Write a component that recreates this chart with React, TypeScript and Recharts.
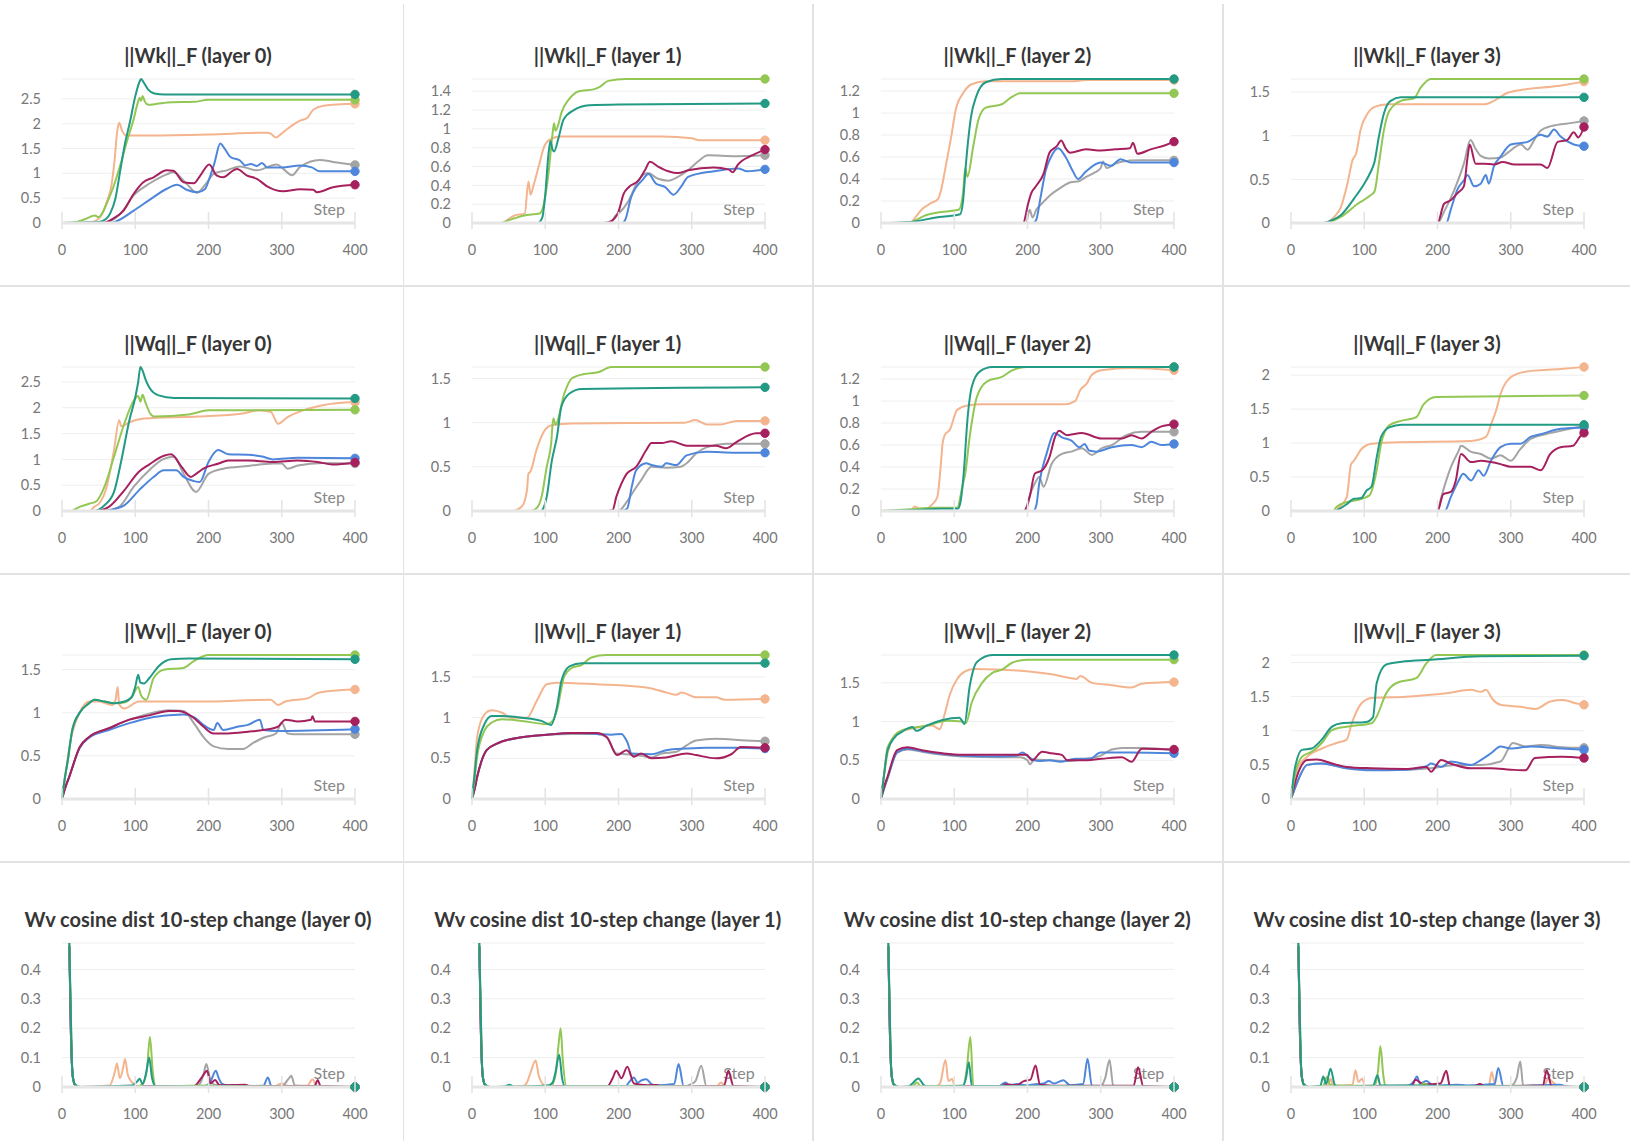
import React from "react";
import { LineChart, Line, XAxis, YAxis, CartesianGrid } from "recharts";

type Pt = [number, number];
type Panel = Record<string, Pt[]>;

const stepTicks = [0, 100, 200, 300, 400];
const drawOrder = ["peach", "gray", "blue", "maroon", "green", "teal"];
const colors: Record<string, string> = {
  teal: "#229a84",
  green: "#93c754",
  peach: "#f4b48e",
  gray: "#a4a4a4",
  blue: "#4e86dc",
  maroon: "#a6205e",
};

const wk0: Panel = {
  teal: [[0,0],[50,0.02],[60,0.08],[66,0.2],[73,0.5],[80,1.1],[86,1.6],[93,2.05],[100,2.55],[106,2.85],[108,2.9],[112,2.82],[118,2.68],[126,2.61],[140,2.59],[400,2.59]],
  green: [[0,0],[15,0.01],[30,0.07],[45,0.15],[50,0.12],[55,0.2],[61,0.39],[70,0.72],[80,1.19],[89,1.66],[98,2.1],[104,2.45],[106,2.52],[108,2.46],[110,2.56],[113,2.45],[118,2.38],[130,2.4],[150,2.43],[180,2.44],[200,2.48],[400,2.48]],
  peach: [[0,0],[40,0.02],[52,0.12],[61,0.42],[68,0.8],[72,1.3],[75,1.8],[78,2.02],[82,1.86],[88,1.76],[120,1.76],[200,1.78],[280,1.82],[285,1.8],[292,1.72],[298,1.78],[310,1.92],[325,2.06],[335,2.12],[343,2.28],[357,2.36],[400,2.4]],
  gray: [[0,0],[55,0],[66,0.04],[80,0.19],[98,0.56],[120,0.8],[143,0.98],[152,1.02],[170,0.79],[184,0.61],[198,0.82],[207,0.99],[225,1.06],[243,1.14],[266,1.06],[293,1.18],[302,1.09],[314,0.96],[325,1.13],[352,1.27],[370,1.23],[400,1.17]],
  blue: [[0,0],[65,0],[75,0.04],[98,0.25],[120,0.47],[143,0.69],[157,0.77],[170,0.67],[185,0.62],[195,0.68],[202,0.93],[208,1.2],[216,1.6],[222,1.5],[230,1.33],[243,1.26],[250,1.16],[258,1.19],[266,1.15],[273,1.21],[280,1.12],[300,1.12],[325,1.16],[341,1.12],[352,1.04],[400,1.04]],
  maroon: [[0,0],[55,0],[70,0.09],[84,0.25],[98,0.59],[111,0.82],[125,0.92],[143,1.06],[152,1.05],[166,0.82],[180,0.8],[189,0.96],[201,1.18],[211,0.96],[220,0.92],[234,1.06],[239,1.09],[252,0.96],[266,0.89],[280,0.74],[302,0.64],[325,0.68],[343,0.67],[348,0.62],[370,0.72],[400,0.77]],
};

const wk1: Panel = {
  green: [[0,0],[40,0],[50,0.03],[58,0.05],[71,0.08],[92,0.1],[98,0.2],[104,0.5],[110,0.95],[112,1.06],[114,0.98],[118,1.05],[122,1.17],[132,1.31],[146,1.4],[166,1.42],[175,1.45],[186,1.51],[210,1.53],[400,1.53]],
  teal: [[0,0],[90,0],[96,0.06],[100,0.3],[104,0.7],[107,0.87],[110,0.78],[112,0.76],[118,0.9],[125,1.1],[139,1.2],[160,1.25],[200,1.26],[400,1.27]],
  peach: [[0,0],[40,0],[50,0.04],[58,0.08],[72,0.1],[77,0.44],[80,0.3],[84,0.4],[92,0.63],[98,0.8],[105,0.88],[120,0.92],[140,0.92],[260,0.92],[300,0.9],[310,0.88],[400,0.88]],
  gray: [[0,0],[190,0],[195,0.07],[200,0.1],[214,0.24],[227,0.45],[240,0.53],[254,0.47],[268,0.45],[281,0.49],[295,0.56],[308,0.65],[322,0.72],[360,0.71],[400,0.72]],
  blue: [[0,0],[205,0],[210,0.05],[217,0.27],[224,0.38],[232,0.45],[241,0.52],[251,0.42],[264,0.38],[275,0.3],[285,0.38],[295,0.49],[330,0.55],[363,0.58],[376,0.55],[400,0.57]],
  maroon: [[0,0],[180,0],[190,0.02],[200,0.12],[207,0.31],[214,0.38],[227,0.45],[236,0.56],[243,0.65],[254,0.6],[268,0.55],[281,0.53],[295,0.56],[330,0.59],[350,0.57],[356,0.54],[363,0.62],[383,0.72],[400,0.78]],
};

const wk2: Panel = {
  teal: [[0,0],[40,0.01],[75,0.05],[108,0.08],[112,0.2],[116,0.54],[123,0.97],[130,1.15],[143,1.28],[165,1.31],[400,1.31]],
  green: [[0,0],[40,0.01],[61,0.07],[82,0.1],[106,0.12],[112,0.27],[115,0.5],[118,0.42],[126,0.7],[133,0.94],[143,1.05],[165,1.08],[175,1.13],[190,1.18],[400,1.18]],
  peach: [[0,0],[40,0],[48,0.06],[55,0.12],[68,0.18],[78,0.22],[82,0.3],[89,0.54],[96,0.79],[102,1.03],[112,1.18],[123,1.26],[143,1.29],[260,1.29],[280,1.3],[400,1.3]],
  maroon: [[0,0],[194,0],[201,0.18],[205,0.27],[211,0.33],[222,0.45],[230,0.64],[240,0.7],[246,0.75],[252,0.68],[258,0.64],[280,0.67],[300,0.66],[320,0.67],[340,0.68],[344,0.73],[350,0.63],[368,0.67],[389,0.71],[400,0.74]],
  blue: [[0,0],[208,0],[212,0.03],[218,0.24],[225,0.48],[232,0.6],[242,0.68],[252,0.6],[262,0.47],[269,0.4],[280,0.47],[300,0.55],[314,0.52],[327,0.58],[341,0.55],[370,0.55],[400,0.55]],
  gray: [[0,0],[198,0],[203,0.12],[207,0.05],[212,0.12],[220,0.18],[232,0.26],[245,0.32],[259,0.37],[270,0.38],[280,0.42],[292,0.46],[300,0.5],[303,0.56],[308,0.5],[320,0.54],[330,0.56],[350,0.57],[400,0.57]],
};

const wk3: Panel = {
  peach: [[0,0],[45,0],[59,0.07],[68,0.18],[77,0.45],[84,0.72],[89,0.8],[95,1.07],[105,1.26],[114,1.33],[132,1.36],[264,1.36],[277,1.4],[295,1.49],[318,1.53],[364,1.57],[386,1.6],[400,1.62]],
  teal: [[0,0],[45,0],[55,0.03],[68,0.09],[86,0.28],[100,0.45],[109,0.59],[114,0.7],[120,0.99],[127,1.26],[136,1.4],[150,1.44],[400,1.44]],
  green: [[0,0],[45,0],[68,0.07],[91,0.22],[109,0.32],[114,0.36],[120,0.68],[127,1.07],[134,1.28],[150,1.4],[168,1.43],[177,1.55],[191,1.65],[400,1.65]],
  gray: [[0,0],[200,0],[209,0.13],[223,0.38],[236,0.68],[245,0.95],[252,0.85],[259,0.77],[270,0.74],[286,0.75],[295,0.8],[314,0.9],[323,0.84],[332,0.95],[341,1.06],[355,1.11],[386,1.15],[400,1.17]],
  blue: [[0,0],[212,0],[218,0.15],[227,0.38],[236,0.49],[241,0.55],[250,0.42],[259,0.45],[266,0.55],[270,0.45],[277,0.65],[286,0.76],[300,0.9],[323,0.93],[341,1.01],[350,0.99],[359,1.07],[368,0.99],[386,0.9],[400,0.88]],
  maroon: [[0,0],[200,0],[209,0.22],[218,0.26],[227,0.34],[236,0.42],[241,0.75],[244,0.9],[252,0.68],[264,0.68],[277,0.67],[289,0.7],[305,0.67],[341,0.67],[350,0.63],[364,0.93],[377,0.95],[386,1.04],[392,0.98],[400,1.1]],
};

const wq0: Panel = {
  teal: [[0,0],[45,0],[52,0.04],[58,0.11],[71,0.37],[81,0.98],[92,1.76],[100,2.2],[104,2.5],[107,2.79],[110,2.72],[114,2.55],[119,2.4],[132,2.24],[153,2.19],[400,2.18]],
  green: [[0,0],[12,0],[24,0.08],[37,0.14],[47,0.19],[58,0.47],[71,1.05],[85,1.69],[98,2.14],[104,2.23],[107,2.12],[110,2.25],[114,2.1],[120,1.9],[126,1.83],[173,1.87],[200,1.95],[400,1.96]],
  peach: [[0,0],[38,0],[44,0.08],[51,0.15],[61,0.47],[71,1.18],[78,1.76],[81,1.64],[92,1.72],[112,1.79],[186,1.83],[247,1.89],[268,1.95],[285,1.92],[295,1.69],[308,1.82],[329,1.95],[356,2.05],[400,2.11]],
  gray: [[0,0],[50,0],[65,0.02],[78,0.08],[98,0.47],[119,0.79],[139,1.01],[153,1.05],[166,0.72],[183,0.37],[200,0.72],[220,0.82],[254,0.87],[288,0.92],[300,0.92],[308,0.82],[322,0.88],[356,0.93],[400,0.92]],
  blue: [[0,0],[60,0],[70,0.03],[85,0.11],[105,0.4],[125,0.66],[139,0.79],[156,0.79],[166,0.66],[180,0.58],[188,0.56],[200,0.95],[213,1.18],[227,1.1],[254,1.09],[275,1.05],[288,1.0],[322,1.03],[400,1.02]],
  maroon: [[0,0],[45,0],[64,0.08],[85,0.4],[105,0.76],[119,0.9],[139,1.07],[149,1.1],[163,0.86],[176,0.66],[183,0.72],[193,0.82],[214,0.92],[227,0.98],[254,0.98],[288,0.95],[322,0.98],[349,0.95],[369,0.9],[400,0.94]],
};

const wq1: Panel = {
  green: [[0,0],[80,0],[90,0.05],[95,0.16],[102,0.5],[108,0.76],[111,1.05],[114,0.98],[126,1.33],[136,1.5],[153,1.55],[172,1.57],[190,1.63],[400,1.63]],
  teal: [[0,0],[94,0],[98,0.04],[102,0.16],[109,0.57],[116,0.84],[122,1.18],[133,1.33],[150,1.38],[400,1.4]],
  peach: [[0,0],[55,0],[68,0.05],[75,0.23],[77,0.42],[80,0.45],[88,0.69],[99,0.91],[109,0.97],[136,0.99],[290,1.0],[305,1.03],[320,0.98],[340,0.98],[361,1.02],[400,1.02]],
  maroon: [[0,0],[185,0],[192,0.01],[197,0.16],[204,0.31],[211,0.42],[224,0.5],[238,0.69],[245,0.77],[259,0.77],[272,0.79],[293,0.74],[333,0.74],[347,0.71],[361,0.78],[388,0.88],[400,0.88]],
  blue: [[0,0],[205,0],[212,0.03],[218,0.27],[224,0.46],[238,0.54],[245,0.52],[259,0.5],[265,0.54],[279,0.52],[293,0.63],[320,0.67],[360,0.66],[400,0.66]],
  gray: [[0,0],[200,0],[211,0.1],[221,0.23],[231,0.35],[245,0.5],[265,0.49],[285,0.5],[293,0.54],[306,0.65],[320,0.72],[347,0.76],[400,0.76]],
};

const wq2: Panel = {
  teal: [[0,0],[50,0.01],[80,0.02],[105,0.02],[109,0.1],[113,0.35],[118,0.83],[124,1.13],[135,1.27],[152,1.31],[400,1.31]],
  green: [[0,0],[50,0.02],[70,0.03],[104,0.03],[111,0.22],[115,0.34],[121,0.67],[131,1.04],[145,1.18],[165,1.22],[179,1.28],[199,1.31],[400,1.31]],
  peach: [[0,0],[40,0],[46,0.04],[56,0.01],[70,0.06],[77,0.13],[82,0.45],[84,0.61],[87,0.69],[94,0.74],[104,0.92],[118,0.96],[138,0.97],[250,0.97],[265,1.0],[272,1.1],[281,1.16],[288,1.24],[301,1.28],[342,1.3],[400,1.28]],
  maroon: [[0,0],[195,0],[203,0.13],[210,0.34],[220,0.37],[230,0.49],[238,0.68],[243,0.73],[254,0.69],[274,0.71],[301,0.66],[329,0.66],[342,0.69],[356,0.66],[369,0.72],[383,0.77],[400,0.79]],
  blue: [[0,0],[208,0],[212,0.05],[216,0.25],[226,0.52],[237,0.71],[247,0.67],[260,0.64],[271,0.58],[278,0.61],[284,0.55],[294,0.54],[315,0.58],[342,0.6],[356,0.58],[369,0.63],[383,0.6],[400,0.61]],
  gray: [[0,0],[198,0],[203,0.14],[210,0.25],[216,0.31],[222,0.22],[233,0.43],[247,0.52],[260,0.54],[274,0.57],[288,0.51],[301,0.57],[315,0.6],[335,0.69],[356,0.72],[400,0.72]],
};

const wq3: Panel = {
  peach: [[0,0],[60,0],[66,0.06],[76,0.2],[82,0.69],[86,0.74],[96,0.91],[110,0.99],[137,1.01],[246,1.03],[266,1.09],[274,1.3],[280,1.48],[286,1.72],[300,1.97],[320,2.05],[368,2.09],[400,2.12]],
  green: [[0,0],[58,0],[62,0.06],[76,0.13],[90,0.16],[107,0.23],[117,0.6],[123,0.99],[134,1.26],[151,1.33],[171,1.38],[181,1.57],[198,1.68],[400,1.7]],
  teal: [[0,0],[60,0],[66,0.03],[76,0.1],[86,0.18],[96,0.19],[103,0.3],[110,0.36],[117,0.79],[123,1.09],[134,1.23],[151,1.27],[400,1.27]],
  gray: [[0,0],[200,0],[205,0.2],[218,0.64],[229,0.89],[232,0.96],[246,0.87],[259,0.84],[273,0.77],[286,0.82],[300,0.74],[313,0.91],[327,1.06],[347,1.13],[368,1.18],[400,1.25]],
  blue: [[0,0],[210,0],[218,0.2],[229,0.45],[235,0.55],[246,0.45],[256,0.6],[263,0.52],[273,0.74],[286,0.94],[300,0.99],[313,0.99],[327,1.09],[341,1.13],[368,1.21],[400,1.23]],
  maroon: [[0,0],[200,0],[208,0.25],[218,0.28],[225,0.45],[232,0.84],[246,0.72],[259,0.74],[273,0.72],[286,0.69],[300,0.65],[327,0.65],[341,0.6],[354,0.84],[368,0.94],[385,0.96],[395,1.1],[400,1.15]],
};

const wv0: Panel = {
  teal: [[0,0],[4,0.25],[8,0.45],[14,0.8],[24,1.0],[37,1.11],[44,1.15],[58,1.13],[71,1.11],[85,1.13],[95,1.18],[100,1.3],[104,1.44],[107,1.35],[112,1.34],[119,1.4],[132,1.54],[149,1.62],[173,1.63],[400,1.62]],
  green: [[0,0],[4,0.25],[8,0.45],[14,0.8],[24,1.0],[37,1.11],[44,1.15],[58,1.13],[71,1.11],[85,1.12],[95,1.18],[104,1.3],[108,1.2],[115,1.15],[125,1.4],[139,1.5],[166,1.52],[180,1.6],[200,1.67],[400,1.67]],
  peach: [[0,0],[5,0.3],[10,0.6],[24,1.0],[37,1.13],[51,1.13],[68,1.09],[73,1.15],[76,1.3],[78,1.1],[85,1.05],[105,1.13],[186,1.13],[285,1.15],[295,1.09],[305,1.13],[336,1.17],[349,1.23],[363,1.25],[400,1.27]],
  gray: [[0,0],[4,0.12],[10,0.26],[24,0.59],[37,0.72],[64,0.82],[92,0.92],[119,0.99],[146,1.03],[166,1.02],[180,0.88],[193,0.72],[207,0.61],[227,0.58],[247,0.58],[261,0.65],[275,0.71],[292,0.76],[300,0.88],[308,0.76],[322,0.75],[400,0.75]],
  blue: [[0,0],[4,0.12],[10,0.26],[24,0.59],[37,0.71],[64,0.8],[92,0.88],[119,0.94],[146,0.97],[166,0.98],[180,0.95],[193,0.86],[207,0.8],[212,0.88],[220,0.8],[241,0.84],[254,0.86],[270,0.92],[275,0.8],[295,0.79],[400,0.81]],
  maroon: [[0,0],[4,0.12],[10,0.26],[24,0.6],[37,0.72],[64,0.82],[92,0.92],[119,0.97],[146,1.02],[159,1.02],[180,0.94],[193,0.84],[207,0.76],[227,0.76],[254,0.78],[275,0.8],[295,0.84],[305,0.92],[322,0.9],[340,0.92],[342,0.96],[345,0.9],[400,0.9]],
};

const wv1: Panel = {
  green: [[0,0],[3,0.2],[7,0.52],[17,0.84],[27,0.94],[41,0.98],[68,0.96],[102,0.92],[110,0.96],[116,1.09],[126,1.51],[136,1.61],[150,1.65],[163,1.74],[184,1.77],[400,1.77]],
  teal: [[0,0],[3,0.25],[7,0.6],[17,0.92],[27,1.02],[41,1.02],[68,1.0],[95,0.96],[108,0.91],[116,1.13],[122,1.45],[133,1.63],[150,1.67],[400,1.67]],
  peach: [[0,0],[3,0.3],[7,0.76],[17,1.04],[27,1.09],[41,1.06],[54,1.0],[75,1.0],[88,1.2],[102,1.41],[116,1.43],[170,1.41],[238,1.37],[265,1.31],[279,1.28],[286,1.31],[306,1.25],[333,1.25],[345,1.22],[400,1.23]],
  gray: [[0,0],[3,0.1],[7,0.27],[20,0.6],[34,0.68],[68,0.76],[102,0.79],[136,0.8],[170,0.8],[184,0.76],[197,0.56],[211,0.55],[231,0.53],[245,0.51],[259,0.56],[279,0.58],[293,0.66],[306,0.72],[333,0.74],[374,0.72],[400,0.71]],
  blue: [[0,0],[3,0.1],[7,0.27],[20,0.6],[34,0.68],[68,0.76],[102,0.79],[136,0.81],[170,0.8],[190,0.79],[204,0.8],[212,0.7],[218,0.56],[245,0.55],[265,0.6],[293,0.62],[320,0.63],[360,0.63],[400,0.62]],
  maroon: [[0,0],[3,0.1],[7,0.27],[20,0.6],[34,0.68],[68,0.76],[102,0.79],[136,0.81],[170,0.81],[184,0.76],[198,0.54],[211,0.6],[221,0.52],[231,0.56],[245,0.5],[265,0.51],[293,0.56],[306,0.54],[333,0.5],[354,0.55],[367,0.64],[400,0.63]],
};

const wv2: Panel = {
  teal: [[0,0],[4,0.3],[9,0.63],[19,0.8],[29,0.87],[43,0.93],[48,0.88],[63,0.95],[84,1.02],[107,1.05],[114,0.97],[121,1.45],[131,1.77],[152,1.86],[400,1.86]],
  green: [[0,0],[4,0.3],[9,0.67],[29,0.89],[63,0.95],[90,1.01],[111,1.0],[116,0.98],[124,1.25],[138,1.5],[152,1.63],[165,1.67],[179,1.76],[199,1.8],[400,1.8]],
  peach: [[0,0],[4,0.3],[9,0.59],[22,0.85],[43,0.91],[70,0.95],[80,0.9],[87,1.1],[94,1.35],[104,1.55],[115,1.65],[128,1.68],[186,1.66],[233,1.61],[260,1.56],[267,1.55],[272,1.59],[288,1.5],[315,1.47],[342,1.44],[356,1.49],[400,1.51]],
  maroon: [[0,0],[4,0.15],[9,0.29],[22,0.63],[36,0.67],[56,0.63],[84,0.59],[111,0.57],[199,0.57],[206,0.5],[220,0.61],[233,0.59],[247,0.57],[254,0.5],[274,0.5],[301,0.52],[329,0.54],[342,0.48],[356,0.65],[400,0.64]],
  gray: [[0,0],[4,0.13],[9,0.27],[22,0.6],[36,0.64],[56,0.61],[84,0.57],[111,0.55],[160,0.54],[190,0.54],[200,0.5],[203,0.45],[210,0.51],[230,0.5],[254,0.49],[280,0.52],[300,0.56],[315,0.64],[330,0.66],[360,0.66],[400,0.63]],
  blue: [[0,0],[4,0.13],[9,0.27],[22,0.6],[36,0.65],[56,0.62],[84,0.58],[111,0.56],[160,0.55],[185,0.56],[193,0.6],[203,0.53],[215,0.49],[230,0.5],[245,0.48],[265,0.52],[285,0.52],[300,0.6],[340,0.6],[400,0.59]],
};

const wv3: Panel = {
  teal: [[0,0],[5,0.43],[15,0.72],[28,0.74],[42,0.87],[56,1.06],[69,1.11],[103,1.13],[112,1.2],[117,1.7],[130,1.97],[151,2.01],[191,2.04],[259,2.09],[400,2.1]],
  green: [[0,0],[5,0.33],[15,0.62],[28,0.69],[42,0.82],[56,1.01],[76,1.06],[110,1.11],[117,1.21],[130,1.55],[144,1.7],[171,1.77],[185,1.99],[198,2.11],[400,2.11]],
  peach: [[0,0],[8,0.43],[22,0.62],[42,0.74],[62,0.82],[76,0.87],[83,1.11],[96,1.4],[110,1.48],[157,1.5],[212,1.55],[246,1.6],[259,1.57],[266,1.6],[276,1.45],[286,1.38],[313,1.35],[334,1.32],[354,1.43],[371,1.45],[390,1.4],[400,1.38]],
  gray: [[0,0],[8,0.23],[22,0.5],[42,0.52],[76,0.45],[110,0.43],[157,0.43],[191,0.45],[225,0.5],[259,0.5],[286,0.55],[303,0.82],[320,0.77],[341,0.79],[370,0.76],[400,0.75]],
  blue: [[0,0],[8,0.23],[22,0.5],[42,0.52],[76,0.45],[110,0.42],[157,0.43],[185,0.48],[191,0.52],[205,0.47],[218,0.55],[246,0.5],[259,0.57],[273,0.67],[286,0.77],[300,0.74],[327,0.77],[370,0.74],[400,0.72]],
  maroon: [[0,0],[8,0.33],[22,0.57],[35,0.58],[56,0.52],[76,0.47],[110,0.45],[157,0.44],[185,0.47],[191,0.4],[205,0.57],[218,0.52],[246,0.45],[273,0.45],[300,0.43],[320,0.42],[333,0.6],[370,0.62],[400,0.6]],
};

const cos0: Panel = {
  teal: [[10,0.49],[12,0.25],[14,0.06],[17,0.01],[25,0],[95,0.005],[103,0.02],[106,0.028],[110,0.01],[115,0.05],[119,0.1],[123,0.03],[128,0.002],[400,0]],
  green: [[10,0.49],[12,0.25],[14,0.06],[17,0.01],[25,0],[100,0],[110,0.01],[116,0.06],[120,0.17],[124,0.05],[128,0.002],[200,0.005],[210,0.003],[400,0]],
  peach: [[10,0.48],[12,0.2],[15,0.03],[20,0],[65,0.005],[72,0.05],[75,0.08],[79,0.03],[83,0.06],[86,0.095],[90,0.04],[96,0.015],[105,0.002],[290,0.003],[300,0.012],[310,0.002],[335,0.005],[342,0.026],[348,0.003],[400,0]],
  gray: [[10,0.48],[12,0.2],[15,0.03],[20,0],[185,0.003],[193,0.04],[197,0.078],[202,0.03],[208,0.008],[230,0.005],[300,0.003],[310,0.03],[313,0.038],[318,0.005],[400,0]],
  blue: [[10,0.48],[12,0.2],[15,0.03],[20,0],[195,0.003],[203,0.02],[210,0.055],[214,0.03],[218,0.012],[225,0.006],[240,0.003],[275,0.004],[281,0.032],[286,0.003],[400,0]],
  maroon: [[10,0.48],[12,0.2],[15,0.03],[20,0],[180,0.003],[190,0.03],[194,0.045],[198,0.055],[203,0.012],[209,0.024],[215,0.006],[250,0.008],[256,0.003],[345,0.004],[349,0.024],[353,0.003],[400,0]],
};

const cos1: Panel = {
  teal: [[10,0.49],[12,0.25],[14,0.06],[17,0.01],[25,0],[45,0.002],[51,0.008],[57,0.001],[104,0.005],[110,0.015],[114,0.05],[119,0.11],[123,0.03],[127,0.002],[400,0]],
  green: [[10,0.49],[12,0.25],[14,0.06],[17,0.01],[25,0],[108,0.005],[114,0.04],[118,0.14],[121,0.2],[124,0.09],[129,0.003],[400,0]],
  peach: [[10,0.48],[12,0.2],[15,0.03],[20,0],[70,0.003],[75,0.015],[80,0.05],[87,0.09],[91,0.04],[94,0.02],[102,0.002],[334,0.003],[340,0.015],[346,0.002],[400,0]],
  gray: [[10,0.48],[12,0.2],[15,0.03],[20,0],[290,0.002],[299,0.01],[305,0.02],[313,0.072],[320,0.003],[400,0]],
  blue: [[10,0.48],[12,0.2],[15,0.03],[20,0],[210,0.003],[214,0.015],[221,0.032],[226,0.015],[231,0.022],[238,0.026],[245,0.01],[250,0.006],[276,0.01],[282,0.078],[289,0.003],[400,0]],
  maroon: [[10,0.48],[12,0.2],[15,0.03],[20,0],[185,0.003],[192,0.03],[197,0.055],[204,0.03],[212,0.069],[221,0.012],[240,0.006],[252,0.007],[258,0.002],[344,0.004],[350,0.055],[357,0.003],[400,0]],
};

const cos2: Panel = {
  teal: [[10,0.49],[12,0.25],[14,0.06],[17,0.01],[25,0],[38,0.002],[42,0.01],[51,0.029],[58,0.008],[62,0.001],[112,0.004],[116,0.03],[120,0.084],[124,0.004],[400,0]],
  green: [[10,0.49],[12,0.25],[14,0.06],[17,0.01],[25,0],[44,0.004],[49,0.015],[54,0.003],[112,0.004],[117,0.06],[122,0.17],[126,0.004],[400,0]],
  peach: [[10,0.48],[12,0.2],[15,0.03],[20,0],[76,0.003],[81,0.015],[88,0.092],[92,0.02],[97,0.027],[101,0.002],[400,0]],
  gray: [[10,0.48],[12,0.2],[15,0.03],[20,0],[300,0.003],[306,0.03],[312,0.092],[317,0.004],[400,0]],
  blue: [[10,0.48],[12,0.2],[15,0.03],[20,0],[160,0.002],[170,0.015],[176,0.004],[185,0.01],[200,0.006],[213,0.01],[222,0.012],[229,0.02],[236,0.012],[249,0.023],[258,0.006],[276,0.01],[282,0.096],[288,0.003],[400,0]],
  maroon: [[10,0.48],[12,0.2],[15,0.03],[20,0],[165,0.003],[170,0.009],[185,0.006],[195,0.02],[204,0.025],[211,0.073],[217,0.008],[250,0.004],[345,0.005],[351,0.067],[358,0.003],[400,0]],
};

const cos3: Panel = {
  teal: [[10,0.49],[12,0.25],[14,0.06],[17,0.01],[25,0],[40,0.004],[44,0.036],[48,0.01],[54,0.062],[60,0.006],[65,0.001],[112,0.004],[118,0.04],[122,0.006],[400,0]],
  green: [[10,0.49],[12,0.25],[14,0.06],[17,0.01],[25,0],[44,0.004],[49,0.034],[54,0.006],[114,0.004],[119,0.06],[122,0.139],[126,0.04],[129,0.002],[175,0.004],[182,0.012],[190,0.002],[400,0]],
  peach: [[10,0.48],[12,0.2],[15,0.03],[20,0],[50,0.004],[54,0.028],[58,0.003],[84,0.008],[88,0.057],[92,0.017],[97,0.028],[101,0.004],[270,0.005],[274,0.051],[279,0.004],[346,0.006],[351,0.028],[363,0.006],[400,0]],
  gray: [[10,0.48],[12,0.2],[15,0.03],[20,0],[300,0.003],[308,0.03],[313,0.087],[317,0.003],[400,0]],
  blue: [[10,0.48],[12,0.2],[15,0.03],[20,0],[158,0.004],[168,0.02],[172,0.036],[176,0.012],[185,0.02],[195,0.004],[226,0.008],[240,0.005],[278,0.01],[283,0.065],[290,0.002],[367,0.008],[375,0.002],[400,0]],
  maroon: [[10,0.48],[12,0.2],[15,0.03],[20,0],[165,0.004],[170,0.025],[181,0.009],[204,0.012],[212,0.055],[217,0.002],[250,0.003],[258,0.01],[265,0.002],[344,0.005],[349,0.057],[356,0.002],[400,0]],
};

const titles = [
  "||Wk||_F (layer 0)", "||Wk||_F (layer 1)", "||Wk||_F (layer 2)", "||Wk||_F (layer 3)",
  "||Wq||_F (layer 0)", "||Wq||_F (layer 1)", "||Wq||_F (layer 2)", "||Wq||_F (layer 3)",
  "||Wv||_F (layer 0)", "||Wv||_F (layer 1)", "||Wv||_F (layer 2)", "||Wv||_F (layer 3)",
  "Wv cosine dist 10-step change (layer 0)", "Wv cosine dist 10-step change (layer 1)",
  "Wv cosine dist 10-step change (layer 2)", "Wv cosine dist 10-step change (layer 3)",
];
const panelData = [wk0, wk1, wk2, wk3, wq0, wq1, wq2, wq3, wv0, wv1, wv2, wv3, cos0, cos1, cos2, cos3];
const yTicks = [
  [0, 0.5, 1, 1.5, 2, 2.5], [0, 0.2, 0.4, 0.6, 0.8, 1, 1.2, 1.4], [0, 0.2, 0.4, 0.6, 0.8, 1, 1.2], [0, 0.5, 1, 1.5],
  [0, 0.5, 1, 1.5, 2, 2.5], [0, 0.5, 1, 1.5], [0, 0.2, 0.4, 0.6, 0.8, 1, 1.2], [0, 0.5, 1, 1.5, 2],
  [0, 0.5, 1, 1.5], [0, 0.5, 1, 1.5], [0, 0.5, 1, 1.5], [0, 0.5, 1, 1.5, 2],
  [0, 0.1, 0.2, 0.3, 0.4], [0, 0.1, 0.2, 0.3, 0.4], [0, 0.1, 0.2, 0.3, 0.4], [0, 0.1, 0.2, 0.3, 0.4],
];

const CELL_W = 409.67;
const CELL_H = 288;
const FONT = "'Source Sans Pro', Lato, 'Noto Sans', sans-serif";

const StepTick = ({ x, y, payload }: any) => (
  <g>
    <line x1={x} x2={x} y1={y - 11} y2={y + 6} stroke="#e3e3e3" strokeWidth={1.5} />
    <text x={x} y={y + 32} textAnchor="middle" fill="#777" fontSize={14.5} fontFamily={FONT}>
      {payload.value}
    </text>
  </g>
);

const endDot = (color: string) => (props: any) => {
  if (!props.payload || props.payload.x !== 400) return null;
  return <circle key={props.index} cx={props.cx} cy={props.cy} r={4.2} fill={color} stroke={color} />;
};

function Chart({ idx }: { idx: number }) {
  const data = panelData[idx];
  const maxY = Math.max(...Object.values(data).flat().map((p) => p[1]));
  const col = idx % 4;
  const row = Math.floor(idx / 4);
  return (
    <div style={{ position: "absolute", left: -7 + CELL_W * col, top: -3 + CELL_H * row, width: 410, height: CELL_H }}>
      <div style={{ position: "absolute", left: -10, width: 430, top: 44, textAlign: "center", fontFamily: FONT, fontSize: 20, fontWeight: 700, color: "#363636", whiteSpace: "nowrap", lineHeight: "28px" }}>
        {titles[idx]}
      </div>
      <div style={{ position: "absolute", right: 58, top: 201, fontFamily: FONT, fontSize: 16, color: "#888", lineHeight: "22px" }}>
        Step
      </div>
      <div style={{ position: "absolute", left: 0, top: 0 }}>
        <LineChart width={410} height={CELL_H} margin={{ top: 82, right: 48, left: 0, bottom: 0 }}>
          <CartesianGrid horizontal vertical={false} stroke="#eeeeee" strokeWidth={1} />
          <XAxis
            type="number"
            dataKey="x"
            domain={[0, 400]}
            ticks={stepTicks}
            height={62}
            tickSize={0}
            tickMargin={0}
            tickLine={false}
            axisLine={{ stroke: "#e6e6e6", strokeWidth: 3 }}
            tick={<StepTick />}
            interval={0}
          />
          <YAxis
            type="number"
            domain={[0, maxY]}
            ticks={yTicks[idx]}
            width={69}
            tickSize={0}
            tickMargin={21}
            tickLine={false}
            axisLine={false}
            interval={0}
            tick={{ fill: "#777", fontSize: 14.5, fontFamily: FONT }}
          />
          {drawOrder.map((name) => (
            <Line
              key={name}
              data={data[name].map(([x, y]) => ({ x, y }))}
              dataKey="y"
              type="monotone"
              stroke={colors[name]}
              strokeWidth={2}
              dot={endDot(colors[name])}
              activeDot={false}
              isAnimationActive={false}
            />
          ))}
        </LineChart>
      </div>
    </div>
  );
}

export default function App() {
  return (
    <div style={{ position: "relative", width: 1630, height: 1141, overflow: "hidden", background: "#fff" }}>
      <style>{`body{margin:0}`}</style>
      {titles.map((_, i) => (
        <Chart key={i} idx={i} />
      ))}
      {[1, 2, 3].map((c) => (
        <div key={"v" + c} style={{ position: "absolute", left: -7 + CELL_W * c, top: 4, width: 1.5, height: 1137, background: "#e2e2e2" }} />
      ))}
      {[1, 2, 3].map((r) => (
        <div key={"h" + r} style={{ position: "absolute", left: 0, top: -3 + CELL_H * r, width: 1630, height: 1.5, background: "#e2e2e2" }} />
      ))}
    </div>
  );
}
